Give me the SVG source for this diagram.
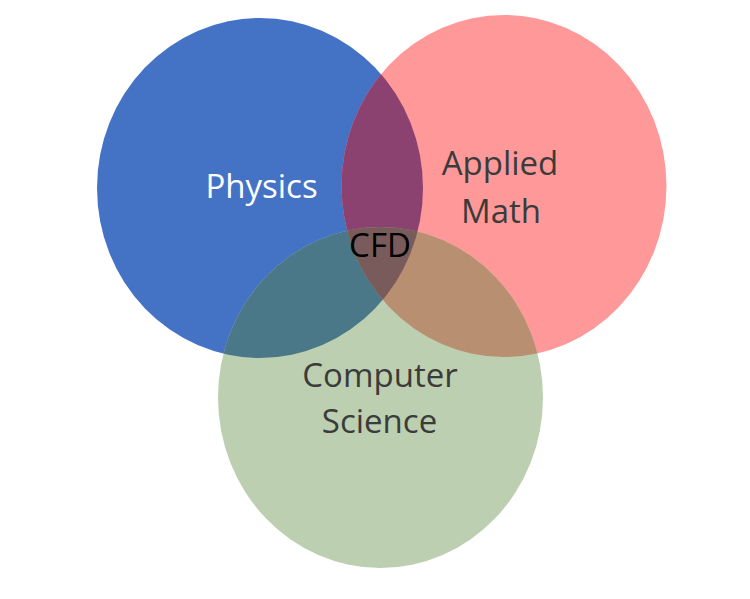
<svg xmlns="http://www.w3.org/2000/svg" width="750" height="599" viewBox="0 0 750 599">
  <style>
    .lbl { font-family: "Open Sans", "Liberation Sans", sans-serif; font-size: 33px; text-anchor: middle; }
    .dark { fill: #3b3b3b; }
  </style>
  <defs>
    <ellipse id="eBlue" cx="260" cy="188" rx="163" ry="170"/>
    <ellipse id="ePink" cx="504" cy="186" rx="162.5" ry="171"/>
    <ellipse id="eGreen" cx="380.5" cy="397.5" rx="162.5" ry="170.5"/>
    <clipPath id="cBlue"><use href="#eBlue"/></clipPath>
    <clipPath id="cPink"><use href="#ePink"/></clipPath>
    <clipPath id="cGreen"><use href="#eGreen"/></clipPath>
  </defs>
  <rect width="750" height="599" fill="#ffffff"/>

  <g id="physics">
    <use href="#eBlue" fill="#4472c4"/>
    <text class="lbl" x="261.5" y="198" fill="#ffffff">Physics</text>
  </g>
  <g id="applied-math">
    <use href="#ePink" fill="#ff9999"/>
    <text class="lbl dark" x="500" y="175">Applied</text>
    <text class="lbl dark" x="501" y="223">Math</text>
  </g>
  <g id="computer-science">
    <use href="#eGreen" fill="#bccfb0"/>
    <text class="lbl dark" x="380" y="387">Computer</text>
    <text class="lbl dark" x="379.5" y="433">Science</text>
  </g>

  <g id="overlaps">
    <g clip-path="url(#cBlue)"><use href="#ePink" fill="#8c4271"/></g>
    <g clip-path="url(#cBlue)"><use href="#eGreen" fill="#4b7889"/></g>
    <g clip-path="url(#cPink)"><use href="#eGreen" fill="#b98f71"/></g>
    <g clip-path="url(#cBlue)"><g clip-path="url(#cPink)"><use href="#eGreen" fill="#795b5b"/></g></g>
  </g>

  <g id="cfd">
    <text class="lbl" x="380" y="257" fill="#000000">CFD</text>
  </g>
</svg>
